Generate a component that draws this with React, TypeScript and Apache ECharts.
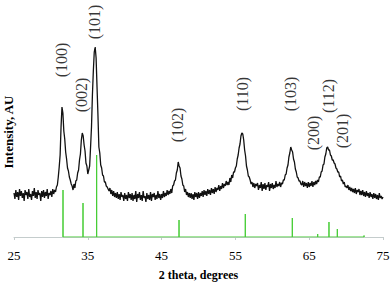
import React, { useEffect, useRef } from "react";
import * as echarts from "echarts";

// Measured XRD pattern, sampled every 0.125 degrees from 25 to 75 (2 theta)
const scanStart = 25;
const scanStep = 0.125;
const intensity: number[] = [
  44, 38, 47, 40, 45, 37, 48, 41, // 25
  46, 39, 44, 36, 47, 42, 45, 38, // 26
  48, 40, 43, 37, 46, 41, 49, 39, // 27
  45, 38, 47, 42, 44, 36, 46, 40, // 28
  47, 39, 45, 41, 48, 38, 44, 42, // 29
  46, 40, 48, 43, 47, 45, 50, 52, // 30
  60, 70, 82, 110, 130, 124, 106, 98, // 31
  85, 78, 69, 66, 60, 57, 53, 51, // 32
  47, 53, 49, 56, 57, 64, 67, 77, // 33
  83, 97, 104, 101, 92, 86, 74, 71, // 34
  63, 67, 71, 90, 110, 142, 166, 185, // 35
  190, 179, 150, 122, 90, 84, 72, 69, // 36
  62, 61, 55, 55, 51, 50, 48, 46, // 37
  49, 43, 47, 41, 46, 40, 44, 39, // 38
  45, 38, 43, 37, 45, 40, 42, 36, // 39
  44, 38, 42, 36, 45, 39, 43, 37, // 40
  44, 36, 42, 38, 46, 35, 43, 39, // 41
  45, 37, 42, 36, 46, 39, 41, 35, // 42
  44, 38, 42, 37, 45, 36, 43, 40, // 43
  44, 37, 42, 38, 46, 39, 43, 37, // 44
  43, 39, 46, 40, 44, 41, 47, 42, // 45
  46, 43, 48, 44, 51, 52, 56, 57, // 46
  64, 67, 75, 71, 69, 61, 58, 52, // 47
  51, 45, 48, 42, 45, 40, 44, 39, // 48
  44, 38, 43, 37, 45, 40, 44, 38, // 49
  45, 39, 44, 41, 46, 40, 47, 42, // 50
  46, 41, 48, 43, 47, 42, 49, 44, // 51
  48, 43, 50, 45, 49, 47, 52, 46, // 52
  51, 48, 54, 49, 53, 51, 56, 52, // 53
  55, 52, 59, 55, 62, 59, 65, 65, // 54
  69, 71, 78, 82, 89, 93, 101, 104, // 55
  103, 97, 87, 81, 71, 67, 61, 60, // 56
  57, 53, 55, 50, 54, 49, 53, 51, // 57
  54, 47, 52, 49, 55, 46, 53, 48, // 58
  54, 47, 52, 50, 55, 46, 53, 49, // 59
  54, 48, 52, 49, 56, 50, 53, 51, // 60
  55, 50, 54, 53, 57, 57, 62, 63, // 61
  69, 72, 80, 84, 90, 87, 85, 78, // 62
  75, 68, 65, 60, 59, 56, 56, 53, // 63
  52, 56, 50, 55, 51, 54, 49, 55, // 64
  50, 54, 51, 56, 50, 55, 52, 56, // 65
  53, 57, 55, 60, 60, 65, 66, 72, // 66
  73, 80, 83, 89, 90, 87, 87, 82, // 67
  81, 77, 77, 74, 73, 69, 68, 65, // 68
  65, 60, 61, 56, 57, 53, 55, 50, // 69
  51, 49, 52, 47, 50, 46, 49, 45, // 70
  48, 44, 49, 43, 47, 45, 48, 42, // 71
  46, 42, 47, 41, 45, 40, 46, 41, // 72
  44, 39, 45, 40, 43, 38, 44, 39, // 73
  43, 38, 42, 37, 44, 39, 41, 38, // 74
  40, // 75
];

// Reference (stick) pattern
const refPositions = [31.64, 34.35, 36.2, 47.36, 56.34, 62.71, 66.15, 67.68, 68.81, 72.43];
const refHeights = [47, 34, 82, 17, 23, 19, 3, 15, 8, 1.5];

// Peak labels
const peakNames = ["(100)", "(002)", "(101)", "(102)", "(110)", "(103)", "(200)", "(112)", "(201)"];
const peakLabelX = [31.5, 34.2, 35.85, 47.2, 56.0, 62.4, 65.65, 67.55, 69.45];
const peakLabelY = [177, 142, 215, 112, 143, 143, 104, 141, 106];

const xTicks = { min: 25, max: 75, interval: 10 };

const serif = "'Liberation Serif', 'Times New Roman', serif";

export default function App() {
  const ref = useRef<HTMLDivElement>(null);

  useEffect(() => {
    if (!ref.current) return;
    const chart = echarts.init(ref.current, undefined, { renderer: "svg" });

    const scan = intensity.map((v, i) => [scanStart + i * scanStep, v]);
    const sticks: number[][] = [];
    refPositions.forEach((p, i) => {
      sticks.push([p, 0], [p, refHeights[i]], [p, 0]);
    });
    const labels = peakNames.map((n, i) => ({ name: n, value: [peakLabelX[i], peakLabelY[i]] }));

    chart.setOption({
      animation: false,
      backgroundColor: "#ffffff",
      grid: { left: 14, right: 9, top: 0, bottom: 47, outerBoundsMode: "none" },
      xAxis: {
        type: "value",
        min: xTicks.min,
        max: xTicks.max,
        interval: xTicks.interval,
        axisLine: { show: true, lineStyle: { color: "#c4cccc", width: 1 } },
        axisTick: { show: true, length: 3, lineStyle: { color: "#c4cccc" } },
        splitLine: { show: false },
        axisLabel: { color: "#000", fontFamily: serif, fontSize: 13, margin: 12 },
        name: "2 theta, degrees",
        nameLocation: "middle",
        nameGap: 32,
        nameTextStyle: { color: "#000", fontFamily: serif, fontSize: 12, fontWeight: "bold" },
      },
      yAxis: { type: "value", min: 0, max: 237, show: false },
      graphic: [
        {
          type: "text",
          x: 8,
          y: 132,
          rotation: Math.PI / 2,
          style: {
            text: "Intensity, AU",
            fill: "#000",
            font: "bold 13px " + serif,
            textAlign: "center",
            textVerticalAlign: "middle",
          },
        },
      ],
      series: [
        {
          type: "line",
          data: sticks,
          symbol: "none",
          lineStyle: { color: "#44cc33", width: 1 },
          z: 3,
        },
        {
          type: "line",
          data: scan,
          symbol: "none",
          lineStyle: { color: "#111", width: 1.3 },
          z: 4,
        },
        {
          type: "scatter",
          data: labels,
          symbolSize: 1,
          itemStyle: { color: "rgba(0,0,0,0)" },
          label: {
            show: true,
            position: "inside",
            rotate: 90,
            formatter: "{b}",
            color: "#000",
            fontFamily: serif,
            fontSize: 16,
          },
          z: 5,
        },
      ],
    });

    return () => chart.dispose();
  }, []);

  return <div ref={ref} style={{ width: 392, height: 284, position: "absolute", left: 0, top: 0 }} />;
}
